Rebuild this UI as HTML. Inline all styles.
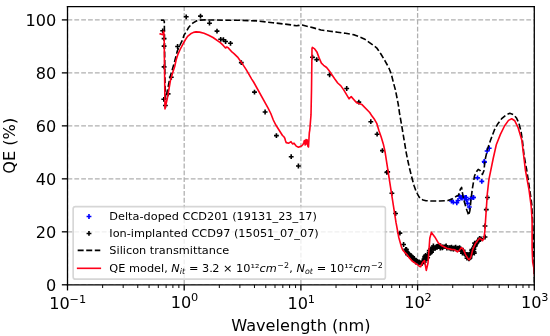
<!DOCTYPE html>
<html><head><meta charset="utf-8"><title>QE plot</title>
<style>html,body{margin:0;padding:0;background:#fff;width:550px;height:336px;overflow:hidden}svg{display:block}</style>
</head><body>
<svg width="550" height="336" viewBox="0 0 340.557 208.05" version="1.1">
<defs>
<style type="text/css">*{stroke-linejoin: round; stroke-linecap: butt}</style>
</defs>
<g id="figure_1">
<g id="patch_1">
<path d="M 0 208.05
L 340.557 208.05
L 340.557 0
L 0 0
z
" style="fill: #ffffff"/>
</g>
<g id="axes_1">
<g id="patch_2">
<path d="M 41.796 176.347
L 330.836 176.347
L 330.836 4.118
L 41.796 4.118
z
" style="fill: #ffffff"/>
</g>
<g id="matplotlib.axis_1">
<g id="xtick_1">
<g id="line2d_1">
<path d="M 41.796 176.347
L 41.796 4.118
" clip-path="url(#p7e4bc9068c)" style="fill: none; stroke-dasharray: 2.96,1.28; stroke-dashoffset: 0; stroke: #b0b0b0; stroke-width: 0.8"/>
</g>
<g id="line2d_2">
<defs>
<path id="m1504cfccaf" d="M 0 0
L 0 3.5
" style="stroke: #000000; stroke-width: 0.8"/>
</defs>
<g>
<use href="#m1504cfccaf" x="41.796" y="176.347" style="stroke: #000000; stroke-width: 0.8"/>
</g>
</g>
<g id="text_1">
<g transform="translate(30.046 190.945)">
<text>
<tspan x="0.495" y="0.493" style="font-size: 10px; font-family: 'DejaVu Sans', sans-serif">1</tspan>
<tspan x="6.858" y="0.493" style="font-size: 10px; font-family: 'DejaVu Sans', sans-serif">0</tspan>
<tspan x="13.037" y="-3.614" style="font-size: 7px; font-family: 'DejaVu Sans', sans-serif">−</tspan>
<tspan x="18.902" y="-3.614" style="font-size: 7px; font-family: 'DejaVu Sans', sans-serif">1</tspan>
</text>
</g>
</g>
</g>
<g id="xtick_2">
<g id="line2d_3">
<path d="M 114.056 176.347
L 114.056 4.118
" clip-path="url(#p7e4bc9068c)" style="fill: none; stroke-dasharray: 2.96,1.28; stroke-dashoffset: 0; stroke: #b0b0b0; stroke-width: 0.8"/>
</g>
<g id="line2d_4">
<g>
<use href="#m1504cfccaf" x="114.056" y="176.347" style="stroke: #000000; stroke-width: 0.8"/>
</g>
</g>
<g id="text_2">
<g transform="translate(105.256 190.945)">
<text>
<tspan x="0.495" y="-0.419" style="font-size: 10px; font-family: 'DejaVu Sans', sans-serif">1</tspan>
<tspan x="6.858" y="-0.419" style="font-size: 10px; font-family: 'DejaVu Sans', sans-serif">0</tspan>
<tspan x="13.037" y="-4.526" style="font-size: 7px; font-family: 'DejaVu Sans', sans-serif">0</tspan>
</text>
</g>
</g>
</g>
<g id="xtick_3">
<g id="line2d_5">
<path d="M 186.316 176.347
L 186.316 4.118
" clip-path="url(#p7e4bc9068c)" style="fill: none; stroke-dasharray: 2.96,1.28; stroke-dashoffset: 0; stroke: #b0b0b0; stroke-width: 0.8"/>
</g>
<g id="line2d_6">
<g>
<use href="#m1504cfccaf" x="186.316" y="176.347" style="stroke: #000000; stroke-width: 0.8"/>
</g>
</g>
<g id="text_3">
<g transform="translate(177.516 190.945)">
<text>
<tspan x="0.495" y="0.493" style="font-size: 10px; font-family: 'DejaVu Sans', sans-serif">1</tspan>
<tspan x="6.858" y="0.493" style="font-size: 10px; font-family: 'DejaVu Sans', sans-serif">0</tspan>
<tspan x="13.037" y="-3.614" style="font-size: 7px; font-family: 'DejaVu Sans', sans-serif">1</tspan>
</text>
</g>
</g>
</g>
<g id="xtick_4">
<g id="line2d_7">
<path d="M 258.576 176.347
L 258.576 4.118
" clip-path="url(#p7e4bc9068c)" style="fill: none; stroke-dasharray: 2.96,1.28; stroke-dashoffset: 0; stroke: #b0b0b0; stroke-width: 0.8"/>
</g>
<g id="line2d_8">
<g>
<use href="#m1504cfccaf" x="258.576" y="176.347" style="stroke: #000000; stroke-width: 0.8"/>
</g>
</g>
<g id="text_4">
<g transform="translate(249.776 190.945)">
<text>
<tspan x="0.495" y="-0.419" style="font-size: 10px; font-family: 'DejaVu Sans', sans-serif">1</tspan>
<tspan x="6.858" y="-0.419" style="font-size: 10px; font-family: 'DejaVu Sans', sans-serif">0</tspan>
<tspan x="13.037" y="-4.526" style="font-size: 7px; font-family: 'DejaVu Sans', sans-serif">2</tspan>
</text>
</g>
</g>
</g>
<g id="xtick_5">
<g id="line2d_9">
<path d="M 330.836 176.347
L 330.836 4.118
" clip-path="url(#p7e4bc9068c)" style="fill: none; stroke-dasharray: 2.96,1.28; stroke-dashoffset: 0; stroke: #b0b0b0; stroke-width: 0.8"/>
</g>
<g id="line2d_10">
<g>
<use href="#m1504cfccaf" x="330.836" y="176.347" style="stroke: #000000; stroke-width: 0.8"/>
</g>
</g>
<g id="text_5">
<g transform="translate(322.036 190.945)">
<text>
<tspan x="0.495" y="-0.419" style="font-size: 10px; font-family: 'DejaVu Sans', sans-serif">1</tspan>
<tspan x="6.858" y="-0.419" style="font-size: 10px; font-family: 'DejaVu Sans', sans-serif">0</tspan>
<tspan x="13.037" y="-4.526" style="font-size: 7px; font-family: 'DejaVu Sans', sans-serif">3</tspan>
</text>
</g>
</g>
</g>
<g id="xtick_6">
<g id="line2d_11">
<defs>
<path id="m05db3bdf9b" d="M 0 0
L 0 2
" style="stroke: #000000; stroke-width: 0.6"/>
</defs>
<g>
<use href="#m05db3bdf9b" x="63.548" y="176.347" style="stroke: #000000; stroke-width: 0.6"/>
</g>
</g>
</g>
<g id="xtick_7">
<g id="line2d_12">
<g>
<use href="#m05db3bdf9b" x="76.272" y="176.347" style="stroke: #000000; stroke-width: 0.6"/>
</g>
</g>
</g>
<g id="xtick_8">
<g id="line2d_13">
<g>
<use href="#m05db3bdf9b" x="85.301" y="176.347" style="stroke: #000000; stroke-width: 0.6"/>
</g>
</g>
</g>
<g id="xtick_9">
<g id="line2d_14">
<g>
<use href="#m05db3bdf9b" x="92.303" y="176.347" style="stroke: #000000; stroke-width: 0.6"/>
</g>
</g>
</g>
<g id="xtick_10">
<g id="line2d_15">
<g>
<use href="#m05db3bdf9b" x="98.025" y="176.347" style="stroke: #000000; stroke-width: 0.6"/>
</g>
</g>
</g>
<g id="xtick_11">
<g id="line2d_16">
<g>
<use href="#m05db3bdf9b" x="102.863" y="176.347" style="stroke: #000000; stroke-width: 0.6"/>
</g>
</g>
</g>
<g id="xtick_12">
<g id="line2d_17">
<g>
<use href="#m05db3bdf9b" x="107.053" y="176.347" style="stroke: #000000; stroke-width: 0.6"/>
</g>
</g>
</g>
<g id="xtick_13">
<g id="line2d_18">
<g>
<use href="#m05db3bdf9b" x="110.749" y="176.347" style="stroke: #000000; stroke-width: 0.6"/>
</g>
</g>
</g>
<g id="xtick_14">
<g id="line2d_19">
<g>
<use href="#m05db3bdf9b" x="135.808" y="176.347" style="stroke: #000000; stroke-width: 0.6"/>
</g>
</g>
</g>
<g id="xtick_15">
<g id="line2d_20">
<g>
<use href="#m05db3bdf9b" x="148.533" y="176.347" style="stroke: #000000; stroke-width: 0.6"/>
</g>
</g>
</g>
<g id="xtick_16">
<g id="line2d_21">
<g>
<use href="#m05db3bdf9b" x="157.561" y="176.347" style="stroke: #000000; stroke-width: 0.6"/>
</g>
</g>
</g>
<g id="xtick_17">
<g id="line2d_22">
<g>
<use href="#m05db3bdf9b" x="164.563" y="176.347" style="stroke: #000000; stroke-width: 0.6"/>
</g>
</g>
</g>
<g id="xtick_18">
<g id="line2d_23">
<g>
<use href="#m05db3bdf9b" x="170.285" y="176.347" style="stroke: #000000; stroke-width: 0.6"/>
</g>
</g>
</g>
<g id="xtick_19">
<g id="line2d_24">
<g>
<use href="#m05db3bdf9b" x="175.123" y="176.347" style="stroke: #000000; stroke-width: 0.6"/>
</g>
</g>
</g>
<g id="xtick_20">
<g id="line2d_25">
<g>
<use href="#m05db3bdf9b" x="179.313" y="176.347" style="stroke: #000000; stroke-width: 0.6"/>
</g>
</g>
</g>
<g id="xtick_21">
<g id="line2d_26">
<g>
<use href="#m05db3bdf9b" x="183.009" y="176.347" style="stroke: #000000; stroke-width: 0.6"/>
</g>
</g>
</g>
<g id="xtick_22">
<g id="line2d_27">
<g>
<use href="#m05db3bdf9b" x="208.068" y="176.347" style="stroke: #000000; stroke-width: 0.6"/>
</g>
</g>
</g>
<g id="xtick_23">
<g id="line2d_28">
<g>
<use href="#m05db3bdf9b" x="220.793" y="176.347" style="stroke: #000000; stroke-width: 0.6"/>
</g>
</g>
</g>
<g id="xtick_24">
<g id="line2d_29">
<g>
<use href="#m05db3bdf9b" x="229.821" y="176.347" style="stroke: #000000; stroke-width: 0.6"/>
</g>
</g>
</g>
<g id="xtick_25">
<g id="line2d_30">
<g>
<use href="#m05db3bdf9b" x="236.823" y="176.347" style="stroke: #000000; stroke-width: 0.6"/>
</g>
</g>
</g>
<g id="xtick_26">
<g id="line2d_31">
<g>
<use href="#m05db3bdf9b" x="242.545" y="176.347" style="stroke: #000000; stroke-width: 0.6"/>
</g>
</g>
</g>
<g id="xtick_27">
<g id="line2d_32">
<g>
<use href="#m05db3bdf9b" x="247.383" y="176.347" style="stroke: #000000; stroke-width: 0.6"/>
</g>
</g>
</g>
<g id="xtick_28">
<g id="line2d_33">
<g>
<use href="#m05db3bdf9b" x="251.573" y="176.347" style="stroke: #000000; stroke-width: 0.6"/>
</g>
</g>
</g>
<g id="xtick_29">
<g id="line2d_34">
<g>
<use href="#m05db3bdf9b" x="255.269" y="176.347" style="stroke: #000000; stroke-width: 0.6"/>
</g>
</g>
</g>
<g id="xtick_30">
<g id="line2d_35">
<g>
<use href="#m05db3bdf9b" x="280.328" y="176.347" style="stroke: #000000; stroke-width: 0.6"/>
</g>
</g>
</g>
<g id="xtick_31">
<g id="line2d_36">
<g>
<use href="#m05db3bdf9b" x="293.053" y="176.347" style="stroke: #000000; stroke-width: 0.6"/>
</g>
</g>
</g>
<g id="xtick_32">
<g id="line2d_37">
<g>
<use href="#m05db3bdf9b" x="302.081" y="176.347" style="stroke: #000000; stroke-width: 0.6"/>
</g>
</g>
</g>
<g id="xtick_33">
<g id="line2d_38">
<g>
<use href="#m05db3bdf9b" x="309.083" y="176.347" style="stroke: #000000; stroke-width: 0.6"/>
</g>
</g>
</g>
<g id="xtick_34">
<g id="line2d_39">
<g>
<use href="#m05db3bdf9b" x="314.805" y="176.347" style="stroke: #000000; stroke-width: 0.6"/>
</g>
</g>
</g>
<g id="xtick_35">
<g id="line2d_40">
<g>
<use href="#m05db3bdf9b" x="319.643" y="176.347" style="stroke: #000000; stroke-width: 0.6"/>
</g>
</g>
</g>
<g id="xtick_36">
<g id="line2d_41">
<g>
<use href="#m05db3bdf9b" x="323.833" y="176.347" style="stroke: #000000; stroke-width: 0.6"/>
</g>
</g>
</g>
<g id="xtick_37">
<g id="line2d_42">
<g>
<use href="#m05db3bdf9b" x="327.529" y="176.347" style="stroke: #000000; stroke-width: 0.6"/>
</g>
</g>
</g>
<g id="text_6" transform="translate(0 0.371)">
<text style="font-size: 10px; font-family: 'DejaVu Sans', sans-serif; text-anchor: middle" x="186.316" y="204.623" transform="rotate(-0 186.316 204.623)">Wavelength (nm)</text>
</g>
</g>
<g id="matplotlib.axis_2">
<g id="ytick_1">
<g id="line2d_43">
<path d="M 41.796 176.347
L 330.836 176.347
" clip-path="url(#p7e4bc9068c)" style="fill: none; stroke-dasharray: 2.96,1.28; stroke-dashoffset: 0; stroke: #b0b0b0; stroke-width: 0.8"/>
</g>
<g id="line2d_44">
<defs>
<path id="m5d545ce8f8" d="M 0 0
L -3.5 0
" style="stroke: #000000; stroke-width: 0.8"/>
</defs>
<g>
<use href="#m5d545ce8f8" x="41.796" y="176.347" style="stroke: #000000; stroke-width: 0.8"/>
</g>
</g>
<g id="text_7">
<text style="font-size: 10px; font-family: 'DejaVu Sans', sans-serif; text-anchor: end" x="34.796" y="180.146" transform="rotate(-0 34.796 180.146)">0</text>
</g>
</g>
<g id="ytick_2">
<g id="line2d_45">
<path d="M 41.796 143.541
L 330.836 143.541
" clip-path="url(#p7e4bc9068c)" style="fill: none; stroke-dasharray: 2.96,1.28; stroke-dashoffset: 0; stroke: #b0b0b0; stroke-width: 0.8"/>
</g>
<g id="line2d_46">
<g>
<use href="#m5d545ce8f8" x="41.796" y="143.541" style="stroke: #000000; stroke-width: 0.8"/>
</g>
</g>
<g id="text_8">
<text style="font-size: 10px; font-family: 'DejaVu Sans', sans-serif; text-anchor: end" x="34.796" y="147.34" transform="rotate(-0 34.796 147.34)">20</text>
</g>
</g>
<g id="ytick_3">
<g id="line2d_47">
<path d="M 41.796 110.736
L 330.836 110.736
" clip-path="url(#p7e4bc9068c)" style="fill: none; stroke-dasharray: 2.96,1.28; stroke-dashoffset: 0; stroke: #b0b0b0; stroke-width: 0.8"/>
</g>
<g id="line2d_48">
<g>
<use href="#m5d545ce8f8" x="41.796" y="110.736" style="stroke: #000000; stroke-width: 0.8"/>
</g>
</g>
<g id="text_9">
<text style="font-size: 10px; font-family: 'DejaVu Sans', sans-serif; text-anchor: end" x="34.796" y="114.535" transform="rotate(-0 34.796 114.535)">40</text>
</g>
</g>
<g id="ytick_4">
<g id="line2d_49">
<path d="M 41.796 77.93
L 330.836 77.93
" clip-path="url(#p7e4bc9068c)" style="fill: none; stroke-dasharray: 2.96,1.28; stroke-dashoffset: 0; stroke: #b0b0b0; stroke-width: 0.8"/>
</g>
<g id="line2d_50">
<g>
<use href="#m5d545ce8f8" x="41.796" y="77.93" style="stroke: #000000; stroke-width: 0.8"/>
</g>
</g>
<g id="text_10">
<text style="font-size: 10px; font-family: 'DejaVu Sans', sans-serif; text-anchor: end" x="34.796" y="81.729" transform="rotate(-0 34.796 81.729)">60</text>
</g>
</g>
<g id="ytick_5">
<g id="line2d_51">
<path d="M 41.796 45.125
L 330.836 45.125
" clip-path="url(#p7e4bc9068c)" style="fill: none; stroke-dasharray: 2.96,1.28; stroke-dashoffset: 0; stroke: #b0b0b0; stroke-width: 0.8"/>
</g>
<g id="line2d_52">
<g>
<use href="#m5d545ce8f8" x="41.796" y="45.125" style="stroke: #000000; stroke-width: 0.8"/>
</g>
</g>
<g id="text_11">
<text style="font-size: 10px; font-family: 'DejaVu Sans', sans-serif; text-anchor: end" x="34.796" y="48.924" transform="rotate(-0 34.796 48.924)">80</text>
</g>
</g>
<g id="ytick_6">
<g id="line2d_53">
<path d="M 41.796 12.319
L 330.836 12.319
" clip-path="url(#p7e4bc9068c)" style="fill: none; stroke-dasharray: 2.96,1.28; stroke-dashoffset: 0; stroke: #b0b0b0; stroke-width: 0.8"/>
</g>
<g id="line2d_54">
<g>
<use href="#m5d545ce8f8" x="41.796" y="12.319" style="stroke: #000000; stroke-width: 0.8"/>
</g>
</g>
<g id="text_12">
<text style="font-size: 10px; font-family: 'DejaVu Sans', sans-serif; text-anchor: end" x="34.796" y="16.118" transform="rotate(-0 34.796 16.118)">100</text>
</g>
</g>
<g id="text_13" transform="translate(-0.433 0)">
<text style="font-size: 10px; font-family: 'DejaVu Sans', sans-serif; text-anchor: middle" x="9.628" y="90.232" transform="rotate(-90 9.628 90.232)">QE (%)</text>
</g>
</g>
<g id="line2d_55">
<defs>
<path id="m82fd374305" d="M -1.5 0
L 1.5 0
M 0 1.5
L 0 -1.5
" style="stroke: #0000ff"/>
</defs>
<g clip-path="url(#p7e4bc9068c)">
<use href="#m82fd374305" x="279.567" y="124.458" style="fill: #0000ff; stroke: #0000ff"/>
<use href="#m82fd374305" x="280.681" y="125.201" style="fill: #0000ff; stroke: #0000ff"/>
<use href="#m82fd374305" x="282.848" y="125.573" style="fill: #0000ff; stroke: #0000ff"/>
<use href="#m82fd374305" x="283.591" y="124.149" style="fill: #0000ff; stroke: #0000ff"/>
<use href="#m82fd374305" x="284.582" y="121.548" style="fill: #0000ff; stroke: #0000ff"/>
<use href="#m82fd374305" x="285.449" y="122.291" style="fill: #0000ff; stroke: #0000ff"/>
<use href="#m82fd374305" x="286.068" y="122.663" style="fill: #0000ff; stroke: #0000ff"/>
<use href="#m82fd374305" x="286.563" y="121.92" style="fill: #0000ff; stroke: #0000ff"/>
<use href="#m82fd374305" x="287.554" y="122.663" style="fill: #0000ff; stroke: #0000ff"/>
<use href="#m82fd374305" x="288.05" y="122.291" style="fill: #0000ff; stroke: #0000ff"/>
<use href="#m82fd374305" x="288.669" y="122.291" style="fill: #0000ff; stroke: #0000ff"/>
<use href="#m82fd374305" x="288.793" y="123.777" style="fill: #0000ff; stroke: #0000ff"/>
<use href="#m82fd374305" x="289.474" y="125.944" style="fill: #0000ff; stroke: #0000ff"/>
<use href="#m82fd374305" x="290.588" y="128.173" style="fill: #0000ff; stroke: #0000ff"/>
<use href="#m82fd374305" x="291.331" y="123.034" style="fill: #0000ff; stroke: #0000ff"/>
<use href="#m82fd374305" x="293.065" y="122.291" style="fill: #0000ff; stroke: #0000ff"/>
<use href="#m82fd374305" x="293.189" y="122.291" style="fill: #0000ff; stroke: #0000ff"/>
<use href="#m82fd374305" x="295.666" y="110.155" style="fill: #0000ff; stroke: #0000ff"/>
<use href="#m82fd374305" x="298.328" y="112.322" style="fill: #0000ff; stroke: #0000ff"/>
<use href="#m82fd374305" x="299.814" y="100" style="fill: #0000ff; stroke: #0000ff"/>
<use href="#m82fd374305" x="300" y="100.372" style="fill: #0000ff; stroke: #0000ff"/>
<use href="#m82fd374305" x="301.61" y="93.498" style="fill: #0000ff; stroke: #0000ff"/>
<use href="#m82fd374305" x="302.91" y="91.827" style="fill: #0000ff; stroke: #0000ff"/>
</g>
</g>
<g id="line2d_56">
<defs>
<path id="mfd81e066ae" d="M -1.5 0
L 1.5 0
M 0 1.5
L 0 -1.5
" style="stroke: #000000"/>
</defs>
<g clip-path="url(#p7e4bc9068c)">
<use href="#mfd81e066ae" x="100.743" y="19.071" style="stroke: #000000"/>
<use href="#mfd81e066ae" x="101.61" y="23.901" style="stroke: #000000"/>
<use href="#mfd81e066ae" x="101.61" y="28.545" style="stroke: #000000"/>
<use href="#mfd81e066ae" x="101.61" y="41.424" style="stroke: #000000"/>
<use href="#mfd81e066ae" x="106.068" y="47.864" style="stroke: #000000"/>
<use href="#mfd81e066ae" x="104.087" y="58.142" style="stroke: #000000"/>
<use href="#mfd81e066ae" x="101.424" y="61.486" style="stroke: #000000"/>
<use href="#mfd81e066ae" x="102.415" y="65.325" style="stroke: #000000"/>
<use href="#mfd81e066ae" x="109.969" y="28.793" style="stroke: #000000"/>
<use href="#mfd81e066ae" x="115.294" y="10.402" style="stroke: #000000"/>
<use href="#mfd81e066ae" x="124.149" y="9.969" style="stroke: #000000"/>
<use href="#mfd81e066ae" x="129.721" y="14.365" style="stroke: #000000"/>
<use href="#mfd81e066ae" x="134.365" y="19.257" style="stroke: #000000"/>
<use href="#mfd81e066ae" x="136.656" y="24.334" style="stroke: #000000"/>
<use href="#mfd81e066ae" x="138.328" y="24.582" style="stroke: #000000"/>
<use href="#mfd81e066ae" x="139.69" y="25.697" style="stroke: #000000"/>
<use href="#mfd81e066ae" x="142.724" y="26.811" style="stroke: #000000"/>
<use href="#mfd81e066ae" x="149.412" y="38.762" style="stroke: #000000"/>
<use href="#mfd81e066ae" x="157.585" y="57.028" style="stroke: #000000"/>
<use href="#mfd81e066ae" x="164.149" y="69.35" style="stroke: #000000"/>
<use href="#mfd81e066ae" x="171.146" y="83.963" style="stroke: #000000"/>
<use href="#mfd81e066ae" x="180.31" y="97.028" style="stroke: #000000"/>
<use href="#mfd81e066ae" x="184.768" y="102.786" style="stroke: #000000"/>
<use href="#mfd81e066ae" x="193.498" y="35.418" style="stroke: #000000"/>
<use href="#mfd81e066ae" x="196.099" y="36.904" style="stroke: #000000"/>
<use href="#mfd81e066ae" x="204.087" y="46.316" style="stroke: #000000"/>
<use href="#mfd81e066ae" x="214.675" y="54.799" style="stroke: #000000"/>
<use href="#mfd81e066ae" x="222.167" y="63.22" style="stroke: #000000"/>
<use href="#mfd81e066ae" x="229.598" y="75.356" style="stroke: #000000"/>
<use href="#mfd81e066ae" x="233.498" y="83.096" style="stroke: #000000"/>
<use href="#mfd81e066ae" x="236.78" y="93.251" style="stroke: #000000"/>
<use href="#mfd81e066ae" x="240.062" y="106.44" style="stroke: #000000"/>
<use href="#mfd81e066ae" x="239.505" y="106.749" style="stroke: #000000"/>
<use href="#mfd81e066ae" x="242.663" y="119.69" style="stroke: #000000"/>
<use href="#mfd81e066ae" x="244.954" y="132.198" style="stroke: #000000"/>
<use href="#mfd81e066ae" x="247.616" y="144.334" style="stroke: #000000"/>
<use href="#mfd81e066ae" x="249.907" y="151.393" style="stroke: #000000"/>
<use href="#mfd81e066ae" x="251.269" y="154.427" style="stroke: #000000"/>
<use href="#mfd81e066ae" x="293.684" y="156.718" style="stroke: #000000"/>
<use href="#mfd81e066ae" x="300.31" y="139.938" style="stroke: #000000"/>
<use href="#mfd81e066ae" x="300.31" y="146.749" style="stroke: #000000"/>
<use href="#mfd81e066ae" x="301.858" y="122.291" style="stroke: #000000"/>
<use href="#mfd81e066ae" x="301.115" y="129.783" style="stroke: #000000"/>
<use href="#mfd81e066ae" x="297.833" y="147.926" style="stroke: #000000"/>
<use href="#mfd81e066ae" x="251.652" y="154.458" style="stroke: #000000"/>
<use href="#mfd81e066ae" x="251.587" y="155.415" style="stroke: #000000"/>
<use href="#mfd81e066ae" x="251.731" y="155.915" style="stroke: #000000"/>
<use href="#mfd81e066ae" x="251.682" y="156.313" style="stroke: #000000"/>
<use href="#mfd81e066ae" x="252.39" y="157.706" style="stroke: #000000"/>
<use href="#mfd81e066ae" x="253.066" y="157.053" style="stroke: #000000"/>
<use href="#mfd81e066ae" x="253.296" y="157.337" style="stroke: #000000"/>
<use href="#mfd81e066ae" x="253.452" y="157.786" style="stroke: #000000"/>
<use href="#mfd81e066ae" x="254.252" y="158.2" style="stroke: #000000"/>
<use href="#mfd81e066ae" x="254.756" y="158.582" style="stroke: #000000"/>
<use href="#mfd81e066ae" x="254.867" y="159.44" style="stroke: #000000"/>
<use href="#mfd81e066ae" x="255.384" y="159.24" style="stroke: #000000"/>
<use href="#mfd81e066ae" x="255.553" y="159.903" style="stroke: #000000"/>
<use href="#mfd81e066ae" x="256.514" y="160.049" style="stroke: #000000"/>
<use href="#mfd81e066ae" x="256.279" y="160.775" style="stroke: #000000"/>
<use href="#mfd81e066ae" x="256.564" y="160.77" style="stroke: #000000"/>
<use href="#mfd81e066ae" x="257.521" y="161.369" style="stroke: #000000"/>
<use href="#mfd81e066ae" x="257.765" y="161.75" style="stroke: #000000"/>
<use href="#mfd81e066ae" x="257.416" y="162.204" style="stroke: #000000"/>
<use href="#mfd81e066ae" x="258.401" y="161.656" style="stroke: #000000"/>
<use href="#mfd81e066ae" x="259.21" y="162.517" style="stroke: #000000"/>
<use href="#mfd81e066ae" x="259.474" y="162.223" style="stroke: #000000"/>
<use href="#mfd81e066ae" x="260.069" y="162.71" style="stroke: #000000"/>
<use href="#mfd81e066ae" x="261.203" y="162.899" style="stroke: #000000"/>
<use href="#mfd81e066ae" x="261.39" y="163.034" style="stroke: #000000"/>
<use href="#mfd81e066ae" x="261.805" y="161.899" style="stroke: #000000"/>
<use href="#mfd81e066ae" x="262.555" y="162.327" style="stroke: #000000"/>
<use href="#mfd81e066ae" x="262.419" y="161.153" style="stroke: #000000"/>
<use href="#mfd81e066ae" x="262.976" y="159.787" style="stroke: #000000"/>
<use href="#mfd81e066ae" x="263.542" y="161.038" style="stroke: #000000"/>
<use href="#mfd81e066ae" x="262.554" y="160.385" style="stroke: #000000"/>
<use href="#mfd81e066ae" x="263.24" y="160.36" style="stroke: #000000"/>
<use href="#mfd81e066ae" x="262.953" y="158.918" style="stroke: #000000"/>
<use href="#mfd81e066ae" x="264.792" y="159.561" style="stroke: #000000"/>
<use href="#mfd81e066ae" x="263.503" y="158.128" style="stroke: #000000"/>
<use href="#mfd81e066ae" x="265.198" y="157.555" style="stroke: #000000"/>
<use href="#mfd81e066ae" x="266.15" y="156.797" style="stroke: #000000"/>
<use href="#mfd81e066ae" x="265.708" y="156.444" style="stroke: #000000"/>
<use href="#mfd81e066ae" x="266.542" y="156.582" style="stroke: #000000"/>
<use href="#mfd81e066ae" x="265.799" y="155.203" style="stroke: #000000"/>
<use href="#mfd81e066ae" x="267.191" y="156.147" style="stroke: #000000"/>
<use href="#mfd81e066ae" x="267.014" y="155.975" style="stroke: #000000"/>
<use href="#mfd81e066ae" x="267.13" y="154.597" style="stroke: #000000"/>
<use href="#mfd81e066ae" x="266.83" y="154.121" style="stroke: #000000"/>
<use href="#mfd81e066ae" x="268.38" y="153.366" style="stroke: #000000"/>
<use href="#mfd81e066ae" x="267.758" y="153.712" style="stroke: #000000"/>
<use href="#mfd81e066ae" x="268.691" y="153.922" style="stroke: #000000"/>
<use href="#mfd81e066ae" x="268.344" y="152.349" style="stroke: #000000"/>
<use href="#mfd81e066ae" x="269.492" y="153.762" style="stroke: #000000"/>
<use href="#mfd81e066ae" x="270.37" y="152.979" style="stroke: #000000"/>
<use href="#mfd81e066ae" x="270.226" y="152.795" style="stroke: #000000"/>
<use href="#mfd81e066ae" x="270.742" y="152.943" style="stroke: #000000"/>
<use href="#mfd81e066ae" x="270.909" y="152.417" style="stroke: #000000"/>
<use href="#mfd81e066ae" x="271.765" y="152.501" style="stroke: #000000"/>
<use href="#mfd81e066ae" x="272.633" y="153.619" style="stroke: #000000"/>
<use href="#mfd81e066ae" x="274.024" y="153.032" style="stroke: #000000"/>
<use href="#mfd81e066ae" x="272.764" y="152.194" style="stroke: #000000"/>
<use href="#mfd81e066ae" x="274.274" y="152.867" style="stroke: #000000"/>
<use href="#mfd81e066ae" x="273.859" y="153.431" style="stroke: #000000"/>
<use href="#mfd81e066ae" x="276.24" y="152.257" style="stroke: #000000"/>
<use href="#mfd81e066ae" x="275.616" y="152.742" style="stroke: #000000"/>
<use href="#mfd81e066ae" x="276.716" y="153.652" style="stroke: #000000"/>
<use href="#mfd81e066ae" x="278.364" y="153.291" style="stroke: #000000"/>
<use href="#mfd81e066ae" x="278.181" y="153.594" style="stroke: #000000"/>
<use href="#mfd81e066ae" x="279.265" y="154.027" style="stroke: #000000"/>
<use href="#mfd81e066ae" x="279.577" y="153.119" style="stroke: #000000"/>
<use href="#mfd81e066ae" x="279.238" y="153.372" style="stroke: #000000"/>
<use href="#mfd81e066ae" x="280.715" y="154.298" style="stroke: #000000"/>
<use href="#mfd81e066ae" x="280.222" y="153.649" style="stroke: #000000"/>
<use href="#mfd81e066ae" x="281.178" y="153.479" style="stroke: #000000"/>
<use href="#mfd81e066ae" x="280.906" y="154.107" style="stroke: #000000"/>
<use href="#mfd81e066ae" x="283.313" y="153.671" style="stroke: #000000"/>
<use href="#mfd81e066ae" x="282.146" y="153.124" style="stroke: #000000"/>
<use href="#mfd81e066ae" x="282.228" y="154.039" style="stroke: #000000"/>
<use href="#mfd81e066ae" x="283.942" y="153.887" style="stroke: #000000"/>
<use href="#mfd81e066ae" x="284.148" y="154.083" style="stroke: #000000"/>
<use href="#mfd81e066ae" x="284.535" y="153.304" style="stroke: #000000"/>
<use href="#mfd81e066ae" x="284.698" y="154.353" style="stroke: #000000"/>
<use href="#mfd81e066ae" x="285.012" y="154.162" style="stroke: #000000"/>
<use href="#mfd81e066ae" x="285.405" y="154.613" style="stroke: #000000"/>
<use href="#mfd81e066ae" x="286.75" y="154.944" style="stroke: #000000"/>
<use href="#mfd81e066ae" x="286.602" y="155.995" style="stroke: #000000"/>
<use href="#mfd81e066ae" x="287.459" y="156.858" style="stroke: #000000"/>
<use href="#mfd81e066ae" x="286.348" y="156.762" style="stroke: #000000"/>
<use href="#mfd81e066ae" x="287.657" y="156.731" style="stroke: #000000"/>
<use href="#mfd81e066ae" x="288.702" y="157.647" style="stroke: #000000"/>
<use href="#mfd81e066ae" x="289.124" y="157.517" style="stroke: #000000"/>
<use href="#mfd81e066ae" x="289.752" y="157.66" style="stroke: #000000"/>
<use href="#mfd81e066ae" x="289.086" y="158.65" style="stroke: #000000"/>
<use href="#mfd81e066ae" x="289.166" y="159.796" style="stroke: #000000"/>
<use href="#mfd81e066ae" x="290.351" y="160.191" style="stroke: #000000"/>
<use href="#mfd81e066ae" x="290.078" y="159.152" style="stroke: #000000"/>
<use href="#mfd81e066ae" x="290.496" y="160.162" style="stroke: #000000"/>
<use href="#mfd81e066ae" x="290.385" y="159.469" style="stroke: #000000"/>
<use href="#mfd81e066ae" x="291.012" y="159.662" style="stroke: #000000"/>
<use href="#mfd81e066ae" x="290.962" y="158.849" style="stroke: #000000"/>
<use href="#mfd81e066ae" x="291.282" y="157.236" style="stroke: #000000"/>
<use href="#mfd81e066ae" x="291.555" y="156.612" style="stroke: #000000"/>
<use href="#mfd81e066ae" x="292.238" y="157.334" style="stroke: #000000"/>
<use href="#mfd81e066ae" x="292.455" y="156.591" style="stroke: #000000"/>
<use href="#mfd81e066ae" x="293.479" y="155.878" style="stroke: #000000"/>
<use href="#mfd81e066ae" x="292.885" y="155.058" style="stroke: #000000"/>
<use href="#mfd81e066ae" x="292.086" y="155.119" style="stroke: #000000"/>
<use href="#mfd81e066ae" x="292.21" y="154.543" style="stroke: #000000"/>
<use href="#mfd81e066ae" x="293.439" y="154.291" style="stroke: #000000"/>
<use href="#mfd81e066ae" x="293.667" y="152.689" style="stroke: #000000"/>
<use href="#mfd81e066ae" x="294.162" y="152.319" style="stroke: #000000"/>
<use href="#mfd81e066ae" x="294.12" y="152.139" style="stroke: #000000"/>
<use href="#mfd81e066ae" x="294.404" y="151.494" style="stroke: #000000"/>
<use href="#mfd81e066ae" x="294.273" y="150.978" style="stroke: #000000"/>
<use href="#mfd81e066ae" x="293.917" y="150.562" style="stroke: #000000"/>
<use href="#mfd81e066ae" x="294.812" y="150.841" style="stroke: #000000"/>
<use href="#mfd81e066ae" x="296.559" y="148.696" style="stroke: #000000"/>
<use href="#mfd81e066ae" x="296.304" y="149.279" style="stroke: #000000"/>
<use href="#mfd81e066ae" x="296.011" y="149.213" style="stroke: #000000"/>
<use href="#mfd81e066ae" x="296.956" y="147.622" style="stroke: #000000"/>
</g>
</g>
<g id="line2d_57">
<path d="M 99.628 12.446
L 101.3 12.446
L 101.734 13.313
L 101.796 18.576
L 101.92 30.96
L 102.105 46.44
L 102.291 55.728
L 102.539 61.3
L 102.91 59.752
L 103.715 55.728
L 105.015 49.226
L 105.263 47.864
L 106.625 43.344
L 107.988 38.638
L 109.102 34.365
L 109.845 31.455
L 111.146 28.483
L 113.003 24.768
L 113.87 21.92
L 115.542 19.257
L 116.904 16.842
L 118.142 15.48
L 119.567 14.18
L 122.229 12.632
L 123.591 12.446
L 126.935 12.322
L 133.127 12.384
L 139.319 12.57
L 148.607 12.57
L 158.762 12.941
L 168.854 14.056
L 179.009 15.232
L 183.591 15.975
L 185.139 15.728
L 186.068 15.356
L 187.121 15.48
L 194.18 17.276
L 198.762 18.576
L 204.334 19.319
L 208.978 19.938
L 212.074 20.433
L 213.932 20.619
L 216.718 21.053
L 219.505 21.61
L 222.229 22.724
L 225.573 24.087
L 228.359 26.068
L 231.084 27.988
L 233.189 29.598
L 234.489 31.455
L 235.851 33.437
L 237.276 35.789
L 238.638 38.142
L 239.814 40.248
L 240.867 42.291
L 241.796 44.582
L 242.663 47.368
L 243.467 50.65
L 244.83 55.666
L 245.944 61.176
L 246.625 64.768
L 247.368 70.031
L 248.731 77.771
L 250.155 86.254
L 251.579 94.799
L 252.508 99.381
L 253.437 103.653
L 254.427 107.616
L 255.294 111.022
L 256.347 114.861
L 257.461 117.957
L 258.514 120.124
L 259.443 121.92
L 260.681 123.096
L 261.981 123.839
L 263.777 124.272
L 266.502 124.458
L 272.446 124.458
L 277.337 124.149
L 280.31 123.034
L 282.477 121.548
L 283.963 120.805
L 285.077 117.09
L 285.82 116.037
L 286.563 120.805
L 287.678 125.573
L 289.164 130.402
L 290.217 133.313
L 290.96 130.402
L 291.703 123.034
L 292.446 117.09
L 293.189 112.693
L 293.808 108.978
L 294.923 106.502
L 296.099 104.892
L 297.214 105.511
L 298.7 108.05
L 299.69 105.573
L 300.062 101.548
L 300.619 97.833
L 301.981 91.95
L 303.839 86.563
L 306.068 80.619
L 308.297 76.594
L 310.836 73.251
L 313.437 71.084
L 315.666 70.155
L 317.833 70.898
L 319.69 72.879
L 321.176 75.851
L 322.601 81.3
L 323.467 86.997
L 324.458 95.975
L 326.13 105.263
L 327.554 114.551
L 328.916 123.839
L 329.288 126.687
L 330.031 142.415
L 330.65 160.991
L 330.96 176.471
" clip-path="url(#p7e4bc9068c)" style="fill: none; stroke-dasharray: 3.7,1.6; stroke-dashoffset: 0; stroke: #000000"/>
</g>
<g id="line2d_58">
<path d="M 99.195 20.991
L 100.929 21.486
L 101.3 19.319
L 101.548 21.053
L 101.672 24.768
L 102.167 67.43
L 103.715 60.372
L 105.573 49.536
L 107.059 44.52
L 108.173 41.176
L 109.04 37.152
L 110.031 33.994
L 111.517 30.65
L 113.003 27.74
L 114.675 24.768
L 116.161 22.539
L 118.08 20.929
L 119.814 20.062
L 121.362 19.752
L 123.591 19.876
L 126.316 20.619
L 129.164 21.796
L 131.889 23.22
L 136.409 26.44
L 138.08 27.988
L 139.628 29.721
L 140.433 29.102
L 141.176 29.474
L 143.777 32.322
L 144.892 33.189
L 147.121 35.356
L 149.288 38.328
L 152.446 43.096
L 155.851 48.978
L 157.028 50.774
L 166.006 66.935
L 167.678 70.279
L 169.226 74.303
L 170.898 77.585
L 174.923 83.901
L 175.728 84.582
L 176.347 85.573
L 176.78 87.183
L 177.214 88.297
L 178.824 88.669
L 180.186 87.74
L 181.115 89.102
L 182.043 88.669
L 183.406 90.464
L 184.83 91.207
L 186.625 90.464
L 187.616 89.474
L 188.111 88.235
L 188.483 86.997
L 188.978 89.783
L 189.474 86.378
L 189.845 89.164
L 190.155 86.563
L 190.588 90.402
L 191.022 91.022
L 191.517 82.353
L 191.827 80.372
L 192.57 71.146
L 192.879 55.728
L 193.189 30.031
L 193.437 29.35
L 194.861 30.279
L 196.223 32.136
L 197.585 35.851
L 199.009 39.071
L 200.372 40.433
L 202.229 41.796
L 203.591 43.529
L 207.307 48.916
L 209.102 51.393
L 211.084 53.189
L 212.817 55.666
L 216.161 61.176
L 217.461 59.814
L 220.805 63.591
L 224.149 64.768
L 228.916 69.659
L 230.341 71.889
L 231.95 74.056
L 233.375 76.594
L 234.613 80.805
L 235.975 84.644
L 237.337 89.102
L 238.328 93.498
L 245.201 137.709
L 246.935 147.059
L 248.545 152.755
L 249.35 154.799
L 250.464 156.099
L 251.827 157.461
L 253.498 159.69
L 255.17 161.61
L 258.452 163.839
L 259.814 165.015
L 260.433 165.201
L 261.734 162.415
L 262.848 161.3
L 263.963 167.43
L 265.015 162.848
L 266.13 147.492
L 267.121 143.901
L 269.226 146.687
L 271.393 150.402
L 273.622 152.198
L 276.594 153.684
L 279.505 154.427
L 281.734 154.675
L 283.22 155.913
L 284.334 155.17
L 285.759 153.313
L 286.873 154.427
L 288.359 157.771
L 289.845 160.31
L 290.588 160.867
L 291.579 159.133
L 292.693 154.675
L 294.365 150.836
L 295.975 148.607
L 296.966 147.492
L 298.08 148.235
L 298.824 148.978
L 299.567 147.864
L 300.186 143.467
L 301.734 120.124
L 302.724 111.207
L 305.387 98.142
L 307.307 89.659
L 309.845 83.22
L 312.384 78.019
L 314.861 74.551
L 316.842 73.56
L 318.762 74.799
L 320.681 78.7
L 323.096 86.687
L 325.325 105.263
L 327.616 117.895
L 328.916 127.802
L 329.474 136.223
L 329.474 153.498
L 329.845 162.291
L 330.588 166.192
L 330.96 170.279
L 330.96 170.279
" clip-path="url(#p7e4bc9068c)" style="fill: none; stroke: #ff0019; stroke-linecap: square"/>
</g>
<g id="patch_3">
<path d="M 41.796 176.347
L 41.796 4.118
" style="fill: none; stroke: #000000; stroke-width: 0.8; stroke-linejoin: miter; stroke-linecap: square"/>
</g>
<g id="patch_4">
<path d="M 330.836 176.347
L 330.836 4.118
" style="fill: none; stroke: #000000; stroke-width: 0.8; stroke-linejoin: miter; stroke-linecap: square"/>
</g>
<g id="patch_5">
<path d="M 41.796 176.347
L 330.836 176.347
" style="fill: none; stroke: #000000; stroke-width: 0.8; stroke-linejoin: miter; stroke-linecap: square"/>
</g>
<g id="patch_6">
<path d="M 41.796 4.118
L 330.836 4.118
" style="fill: none; stroke: #000000; stroke-width: 0.8; stroke-linejoin: miter; stroke-linecap: square"/>
</g>
<g id="legend_1">
<g id="patch_7">
<path d="M 46.696 172.847
L 237.238 172.847
Q 238.638 172.847 238.638 171.447
L 238.638 129.326
Q 238.638 127.926 237.238 127.926
L 46.696 127.926
Q 45.296 127.926 45.296 129.326
L 45.296 171.447
Q 45.296 172.847 46.696 172.847
z
" style="fill: #ffffff; opacity: 0.8; stroke: #cccccc; stroke-linejoin: miter"/>
</g>
<g id="line2d_59">
<g>
<use href="#m82fd374305" x="55.096" y="134.072" style="fill: #0000ff; stroke: #0000ff"/>
</g>
</g>
<g id="text_14">
<text style="font-size: 7px; font-family: 'DejaVu Sans', sans-serif; text-anchor: start" x="67.696" y="136.522" transform="rotate(-0 67.696 136.522)">Delta-doped CCD201 (19131_23_17)</text>
</g>
<g id="line2d_60">
<g>
<use href="#mfd81e066ae" x="55.096" y="144.542" style="stroke: #000000"/>
</g>
</g>
<g id="text_15">
<text style="font-size: 7px; font-family: 'DejaVu Sans', sans-serif; text-anchor: start" x="67.696" y="146.992" transform="rotate(-0 67.696 146.992)">Ion-implanted CCD97 (15051_07_07)</text>
</g>
<g id="line2d_61">
<path d="M 48.096 155.011
L 55.096 155.011
L 62.096 155.011
" style="fill: none; stroke-dasharray: 3.7,1.6; stroke-dashoffset: 0; stroke: #000000"/>
</g>
<g id="text_16">
<text style="font-size: 7px; font-family: 'DejaVu Sans', sans-serif; text-anchor: start" x="67.696" y="157.461" transform="rotate(-0 67.696 157.461)">Silicon transmittance</text>
</g>
<g id="line2d_62">
<path d="M 48.096 166.141
L 55.096 166.141
L 62.096 166.141
" style="fill: none; stroke: #ff0019; stroke-linecap: square"/>
</g>
<g id="text_17" transform="translate(0 0.495)">
<g transform="translate(67.696 168.591)">
<text>
<tspan x="0" y="-0.678" style="font-size: 7px; font-family: 'DejaVu Sans', sans-serif">Q</tspan>
<tspan x="5.51" y="-0.678" style="font-size: 7px; font-family: 'DejaVu Sans', sans-serif">E</tspan>
<tspan x="9.933" y="-0.678" style="font-size: 7px; font-family: 'DejaVu Sans', sans-serif"> </tspan>
<tspan x="12.158" y="-0.678" style="font-size: 7px; font-family: 'DejaVu Sans', sans-serif">m</tspan>
<tspan x="18.977" y="-0.678" style="font-size: 7px; font-family: 'DejaVu Sans', sans-serif">o</tspan>
<tspan x="23.259" y="-0.678" style="font-size: 7px; font-family: 'DejaVu Sans', sans-serif">d</tspan>
<tspan x="27.703" y="-0.678" style="font-size: 7px; font-family: 'DejaVu Sans', sans-serif">e</tspan>
<tspan x="32.009" y="-0.678" style="font-size: 7px; font-family: 'DejaVu Sans', sans-serif">l</tspan>
<tspan x="33.954" y="-0.678" style="font-size: 7px; font-family: 'DejaVu Sans', sans-serif">,</tspan>
<tspan x="36.179" y="-0.678" style="font-size: 7px; font-family: 'DejaVu Sans', sans-serif"> </tspan>
<tspan x="47.115" y="-0.678" style="font-size: 7px; font-family: 'DejaVu Sans', sans-serif"> </tspan>
<tspan x="49.34" y="-0.678" style="font-size: 7px; font-family: 'DejaVu Sans', sans-serif">=</tspan>
<tspan x="55.205" y="-0.678" style="font-size: 7px; font-family: 'DejaVu Sans', sans-serif"> </tspan>
<tspan x="57.43" y="-0.678" style="font-size: 7px; font-family: 'DejaVu Sans', sans-serif">3</tspan>
<tspan x="61.884" y="-0.678" style="font-size: 7px; font-family: 'DejaVu Sans', sans-serif">.</tspan>
<tspan x="63.734" y="-0.678" style="font-size: 7px; font-family: 'DejaVu Sans', sans-serif">2</tspan>
<tspan x="68.187" y="-0.678" style="font-size: 7px; font-family: 'DejaVu Sans', sans-serif"> </tspan>
<tspan x="70.412" y="-0.678" style="font-size: 7px; font-family: 'DejaVu Sans', sans-serif">×</tspan>
<tspan x="76.278" y="-0.678" style="font-size: 7px; font-family: 'DejaVu Sans', sans-serif"> </tspan>
<tspan x="78.503" y="-0.678" style="font-size: 7px; font-family: 'DejaVu Sans', sans-serif">1</tspan>
<tspan x="82.956" y="-0.678" style="font-size: 7px; font-family: 'DejaVu Sans', sans-serif">0</tspan>
<tspan x="87.41" y="-0.678" style="font-size: 7px; font-family: 'DejaVu Sans', sans-serif">¹</tspan>
<tspan x="90.216" y="-0.678" style="font-size: 7px; font-family: 'DejaVu Sans', sans-serif">²</tspan>
<tspan x="111.43" y="-0.678" style="font-size: 7px; font-family: 'DejaVu Sans', sans-serif">,</tspan>
<tspan x="113.655" y="-0.678" style="font-size: 7px; font-family: 'DejaVu Sans', sans-serif"> </tspan>
<tspan x="126.227" y="-0.678" style="font-size: 7px; font-family: 'DejaVu Sans', sans-serif"> </tspan>
<tspan x="128.452" y="-0.678" style="font-size: 7px; font-family: 'DejaVu Sans', sans-serif">=</tspan>
<tspan x="134.318" y="-0.678" style="font-size: 7px; font-family: 'DejaVu Sans', sans-serif"> </tspan>
<tspan x="136.543" y="-0.678" style="font-size: 7px; font-family: 'DejaVu Sans', sans-serif">1</tspan>
<tspan x="140.996" y="-0.678" style="font-size: 7px; font-family: 'DejaVu Sans', sans-serif">0</tspan>
<tspan x="145.45" y="-0.678" style="font-size: 7px; font-family: 'DejaVu Sans', sans-serif">¹</tspan>
<tspan x="148.256" y="-0.678" style="font-size: 7px; font-family: 'DejaVu Sans', sans-serif">²</tspan>
<tspan x="38.404" y="-0.678" style="font-style: oblique; font-size: 7px; font-family: 'DejaVu Sans', sans-serif">N</tspan>
<tspan x="93.022" y="-0.678" style="font-style: oblique; font-size: 7px; font-family: 'DejaVu Sans', sans-serif">c</tspan>
<tspan x="96.871" y="-0.678" style="font-style: oblique; font-size: 7px; font-family: 'DejaVu Sans', sans-serif">m</tspan>
<tspan x="115.88" y="-0.678" style="font-style: oblique; font-size: 7px; font-family: 'DejaVu Sans', sans-serif">N</tspan>
<tspan x="151.062" y="-0.678" style="font-style: oblique; font-size: 7px; font-family: 'DejaVu Sans', sans-serif">c</tspan>
<tspan x="154.911" y="-0.678" style="font-style: oblique; font-size: 7px; font-family: 'DejaVu Sans', sans-serif">m</tspan>
<tspan x="43.641" y="0.47" style="font-style: oblique; font-size: 4.9px; font-family: 'DejaVu Sans', sans-serif">i</tspan>
<tspan x="45.002" y="0.47" style="font-style: oblique; font-size: 4.9px; font-family: 'DejaVu Sans', sans-serif">t</tspan>
<tspan x="121.117" y="0.47" style="font-style: oblique; font-size: 4.9px; font-family: 'DejaVu Sans', sans-serif">o</tspan>
<tspan x="124.115" y="0.47" style="font-style: oblique; font-size: 4.9px; font-family: 'DejaVu Sans', sans-serif">t</tspan>
<tspan x="104.016" y="-3.358" style="font-size: 4.9px; font-family: 'DejaVu Sans', sans-serif">−</tspan>
<tspan x="108.121" y="-3.358" style="font-size: 4.9px; font-family: 'DejaVu Sans', sans-serif">2</tspan>
<tspan x="162.055" y="-3.358" style="font-size: 4.9px; font-family: 'DejaVu Sans', sans-serif">−</tspan>
<tspan x="166.161" y="-3.358" style="font-size: 4.9px; font-family: 'DejaVu Sans', sans-serif">2</tspan>
</text>
</g>
</g>
</g>
</g>
</g>
<defs>
<clipPath id="p7e4bc9068c">
<rect x="41.796" y="4.118" width="289.04" height="172.229"/>
</clipPath>
</defs>
</svg>
</body></html>
